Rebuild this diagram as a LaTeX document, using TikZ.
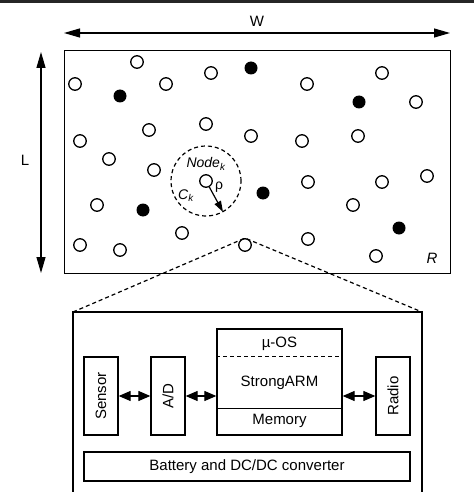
\documentclass[tikz,border=0pt]{standalone}
\usepackage{fontspec}
\setmainfont{Liberation Sans}
\usetikzlibrary{arrows.meta,calc}
\begin{document}
\begin{tikzpicture}[x=1pt,y=-1pt,
  every node/.style={font=\fontsize{15}{17}\selectfont},
  opennode/.style={circle,draw,line width=1.3pt,minimum size=12.5pt,inner sep=0pt},
  fullnode/.style={circle,fill=black,minimum size=13pt,inner sep=0pt},
  blockbox/.style={draw,line width=1.3pt,inner sep=0pt},
  dim/.style={line width=1.2pt,{Triangle[length=16pt,width=9pt]}-{Triangle[length=16pt,width=9pt]}},
  link/.style={line width=1.2pt,{Triangle[length=12pt,width=10pt]}-{Triangle[length=12pt,width=10pt]}},
  dashline/.style={line width=1.2pt,dash pattern=on 4pt off 3pt}]
\useasboundingbox (0,0) rectangle (474,492);
\fill[black!85] (0,0) rectangle (474,3);
% dimension arrows
\coordinate (wl) at (64,33);
\coordinate (wr) at (450,33);
\draw[dim] (wl) -- (wr);
\node (wlab) at (257,21) {W};
\coordinate (lt) at (41,52);
\coordinate (lb) at (41,273);
\draw[dim] (lt) -- (lb);
\node (llab) at (25,160) {L};
% region
\node[blockbox,minimum width=386pt,minimum height=223pt,anchor=north west] (region) at (64,50) {};
\node[font=\fontsize{15}{17}\selectfont\itshape] (rlab) at (432,258) {R};
% sensor nodes
\node[opennode] (a1) at (75,84) {};
\node[opennode] (a2) at (137,62) {};
\node[opennode] (a3) at (166,84) {};
\node[opennode] (a4) at (211,73) {};
\node[opennode] (a5) at (307,84) {};
\node[opennode] (a6) at (382,73) {};
\node[opennode] (a7) at (416,102) {};
\node[opennode] (a8) at (149,130) {};
\node[opennode] (a9) at (206,124) {};
\node[opennode] (a10) at (80,141) {};
\node[opennode] (a11) at (251,136) {};
\node[opennode] (a12) at (302,141) {};
\node[opennode] (a13) at (358,136) {};
\node[opennode] (a14) at (109,159) {};
\node[opennode] (a15) at (154,170) {};
\node[opennode] (nodek) at (206,181) {};
\node[opennode] (a16) at (308,182) {};
\node[opennode] (a17) at (382,182) {};
\node[opennode] (a18) at (427,176) {};
\node[opennode] (a19) at (97,205) {};
\node[opennode] (a20) at (353,205) {};
\node[opennode] (a21) at (182,233) {};
\node[opennode] (a22) at (80,245) {};
\node[opennode] (a23) at (120,250) {};
\node[opennode] (a24) at (245,245) {};
\node[opennode] (a25) at (308,239) {};
\node[opennode] (a26) at (376,256) {};
\node[fullnode] (f1) at (120,96) {};
\node[fullnode] (f2) at (251,68) {};
\node[fullnode] (f3) at (359,102) {};
\node[fullnode] (f4) at (143,210) {};
\node[fullnode] (f5) at (263,193) {};
\node[fullnode] (f6) at (399,228) {};
% coverage circle
\node[circle,dashline,draw,minimum size=70pt,inner sep=0pt] (ck) at (nodek) {};
\node[font=\fontsize{14}{16}\selectfont\itshape] (nklab) at (206,164) {Node\textsubscript{k}};
\node[font=\fontsize{14}{16}\selectfont\itshape] (cklab) at (186,196) {C\textsubscript{k}};
\node[font=\fontsize{14}{16}\selectfont] (rholab) at (219,187) {ρ};
\coordinate (rhoend) at (223,212);
\draw[line width=1.2pt,-{Triangle[length=11pt,width=7pt]}] (nodek) -- (rhoend);
% zoom lines
\coordinate (zl) at (73,312);
\coordinate (zr) at (422,312);
\coordinate (zlb) at (73,492);
\coordinate (zrb) at (422,492);
\draw[dashline] (zl) -- (a24.north) -- (zr);
\draw[line width=1.3pt] (zlb) -- (zl) -- (zr) -- (zrb);
% blocks
\node[blockbox,minimum width=34pt,minimum height=78pt] (sensor) at (101,396) {\rotatebox{90}{Sensor}};
\node[blockbox,minimum width=34pt,minimum height=78pt] (ad) at (168,396) {\rotatebox{90}{A/D}};
\node[blockbox,minimum width=34pt,minimum height=78pt] (radio) at (393,396) {\rotatebox{90}{Radio}};
\node[blockbox,minimum width=125pt,minimum height=106pt] (cpu) at (279.5,382) {};
\draw[dashline] ($(cpu.north west)+(0,28)$) -- ($(cpu.north east)+(0,28)$);
\draw[line width=1.3pt] ($(cpu.south west)+(0,-27)$) -- ($(cpu.south east)+(0,-27)$);
\node (os) at (279.5,344) {µ-OS};
\node (arm) at (279.5,383) {StrongARM};
\node (mem) at (279.5,421) {Memory};
\node[blockbox,minimum width=326pt,minimum height=29pt] (batt) at (247,466.5) {Battery and DC/DC converter};
% links
\draw[link] (sensor.east) -- (ad.west);
\draw[link] (ad.east) -- (cpu.west |- ad.east);
\draw[link] (cpu.east |- radio.west) -- (radio.west);
\end{tikzpicture}
\end{document}
